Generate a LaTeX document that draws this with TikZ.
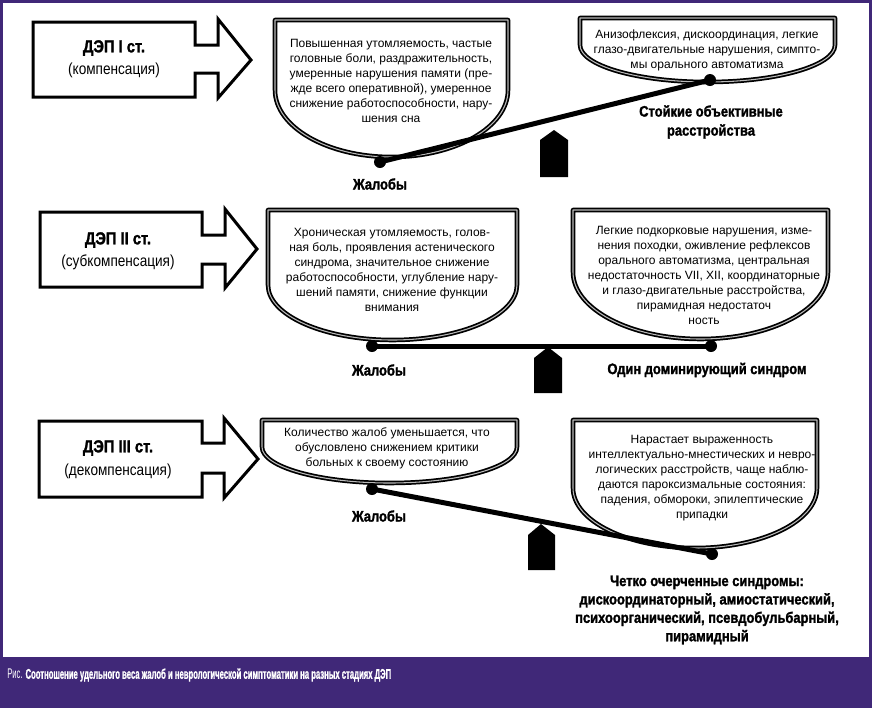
\documentclass[tikz,border=0pt]{standalone}
\usepackage{fontspec}
\setmainfont{Liberation Sans}
\newfontfamily\condfont{Liberation Sans}[FakeStretch=0.85, BoldFeatures={FakeBold=1.5}]
\newfontfamily\capfont{Liberation Sans}[FakeStretch=0.55, BoldFeatures={FakeBold=1}]
\definecolor{framepurple}{RGB}{64,40,120}
\tikzset{
  bowl/.style={draw=black, line width=1.3pt, double=gray!55, double distance=0.8pt, fill=white, line join=round},
  stagearrow/.style={draw=black, line width=2.25pt, fill=white, line join=miter},
  beam/.style={draw=black, line width=3.75pt},
  pivot/.style={fill=black},
  bowltext/.style={align=center, font=\fontsize{9}{11.25}\selectfont, inner sep=0pt},
  lbl/.style={align=center, font=\condfont\bfseries\fontsize{11.4}{14.25}\selectfont, inner sep=0pt},
  stitle/.style={font=\condfont\bfseries\fontsize{13}{15}\selectfont, inner sep=0pt},
  ssub/.style={font=\condfont\fontsize{12}{14}\selectfont, inner sep=0pt},
}
\begin{document}
\begin{tikzpicture}[x=0.75pt,y=-0.75pt]
\useasboundingbox (0,0) rectangle (872,708);
\fill[framepurple] (0,0) rectangle (872,708);
\fill[white] (3,3) rectangle (869,657);

% ---------- Stage I ----------
\path[stagearrow] (33,22) -- (195,22) -- (195,45) -- (218,45) -- (218,19) -- (251,60) -- (218,98) -- (218,73) -- (195,73) -- (195,97) -- (33,97) -- cycle;
\node[stitle] (t1) at (114,48) {ДЭП I ст.};
\node[ssub] (s1) at (114,70) {(компенсация)};

\path[bowl] (275,20) -- (508,20) -- (508,90) .. controls (508,127) and (455.8,157) .. (391.5,157) .. controls (327.2,157) and (275,127) .. (275,90) -- cycle;
\path[bowl] (580,18) -- (835,18) -- (835,45) .. controls (835,65.4) and (777.9,82) .. (707.5,82) .. controls (637.1,82) and (580,65.4) .. (580,45) -- cycle;
\node[bowltext] (b1) at (391,81) {Повышенная утомляемость, частые\\головные боли, раздражительность,\\умеренные нарушения памяти (пре-\\жде всего оперативной), умеренное\\снижение работоспособности, нару-\\шения сна};
\node[bowltext] (b2) at (707,50) {Анизофлексия, дискоординация, легкие\\глазо-двигательные нарушения, симпто-\\мы орального автоматизма};

\path[pivot] (540,140) -- (554,130) -- (568,140) -- (568,177) -- (540,177) -- cycle;
\coordinate (d1l) at (380,162);
\coordinate (d1r) at (710,80);
\draw[beam] (d1l) -- (d1r);
\fill (d1l) circle[radius=4.5pt];
\fill (d1r) circle[radius=4.5pt];
\node[lbl] (l1a) at (380,184) {Жалобы};
\node[lbl] (l1b) at (711,122) {Стойкие объективные\\расстройства};

% ---------- Stage II ----------
\path[stagearrow] (40,212) -- (202,212) -- (202,235) -- (225,235) -- (225,209) -- (257,249) -- (225,288) -- (225,264) -- (202,264) -- (202,287) -- (40,287) -- cycle;
\node[stitle] (t2) at (118,240) {ДЭП II ст.};
\node[ssub] (s2) at (118,262) {(субкомпенсация)};

\path[bowl] (268,210) -- (517,210) -- (517,285) .. controls (517,315.4) and (461.2,340) .. (392.5,340) .. controls (323.8,340) and (268,315.4) .. (268,285) -- cycle;
\path[bowl] (573,210) -- (828,210) -- (828,272) .. controls (828,309) and (770.9,339) .. (700.5,339) .. controls (630.1,339) and (573,309) .. (573,272) -- cycle;
\node[bowltext] (b3) at (392,270) {Хроническая утомляемость, голов-\\ная боль, проявления астенического\\синдрома, значительное снижение\\работоспособности, углубление нару-\\шений памяти, снижение функции\\внимания};
\node[bowltext] (b4) at (704,275) {Легкие подкорковые нарушения, изме-\\нения походки, оживление рефлексов\\орального автоматизма, центральная\\недостаточность VII, XII, координаторные\\и глазо-двигательные расстройства,\\пирамидная недостаточ\\ность};

\path[pivot] (534,358) -- (548,347) -- (562,358) -- (562,393) -- (534,393) -- cycle;
\coordinate (d2l) at (372,346);
\coordinate (d2r) at (711,346);
\draw[beam] (d2l) -- (d2r);
\fill (d2l) circle[radius=4.5pt];
\fill (d2r) circle[radius=4.5pt];
\node[lbl] (l2a) at (379,370) {Жалобы};
\node[lbl] (l2b) at (707,370) {Один доминирующий синдром};

% ---------- Stage III ----------
\path[stagearrow] (39,421) -- (202,421) -- (202,443) -- (224,443) -- (224,418) -- (258,459) -- (224,498) -- (224,473) -- (202,473) -- (202,497) -- (39,497) -- cycle;
\node[stitle] (t3) at (118,448) {ДЭП III ст.};
\node[ssub] (s3) at (118,471) {(декомпенсация)};

\path[bowl] (262,420) -- (517,420) -- (517,447) .. controls (517,466.9) and (459.9,483) .. (389.5,483) .. controls (319.1,483) and (262,466.9) .. (262,447) -- cycle;
\path[bowl] (573,420) -- (817,420) -- (817,488) .. controls (817,521.1) and (762.3,548) .. (695,548) .. controls (627.7,548) and (573,521.1) .. (573,488) -- cycle;
\node[bowltext] (b5) at (387,448) {Количество жалоб уменьшается, что\\обусловлено снижением критики\\больных к своему состоянию};
\node[bowltext] (b6) at (702,478) {Нарастает выраженность\\интеллектуально-мнестических и невро-\\логических расстройств, чаще наблю-\\даются пароксизмальные состояния:\\падения, обмороки, эпилептические\\припадки};

\path[pivot] (528,535) -- (541,524) -- (555,535) -- (555,570) -- (528,570) -- cycle;
\coordinate (d3l) at (372,489);
\coordinate (d3r) at (712,554);
\draw[beam] (d3l) -- (d3r);
\fill (d3l) circle[radius=4.5pt];
\fill (d3r) circle[radius=4.5pt];
\node[lbl] (l3a) at (379,516) {Жалобы};
\node[lbl, font=\condfont\bfseries\fontsize{11.4}{13.8}\selectfont] (l3b) at (707,610) {Четко очерченные синдромы:\\дискоординаторный, амиостатический,\\психоорганический, псевдобульбарный,\\пирамидный};

% ---------- caption ----------
\node[anchor=west, text=white, inner sep=0pt, font=\capfont\fontsize{10.5}{12}\selectfont] (cap) at (7,675) {Рис. \textbf{Соотношение удельного веса жалоб и неврологической симптоматики на разных стадиях ДЭП}};
\end{tikzpicture}
\end{document}
